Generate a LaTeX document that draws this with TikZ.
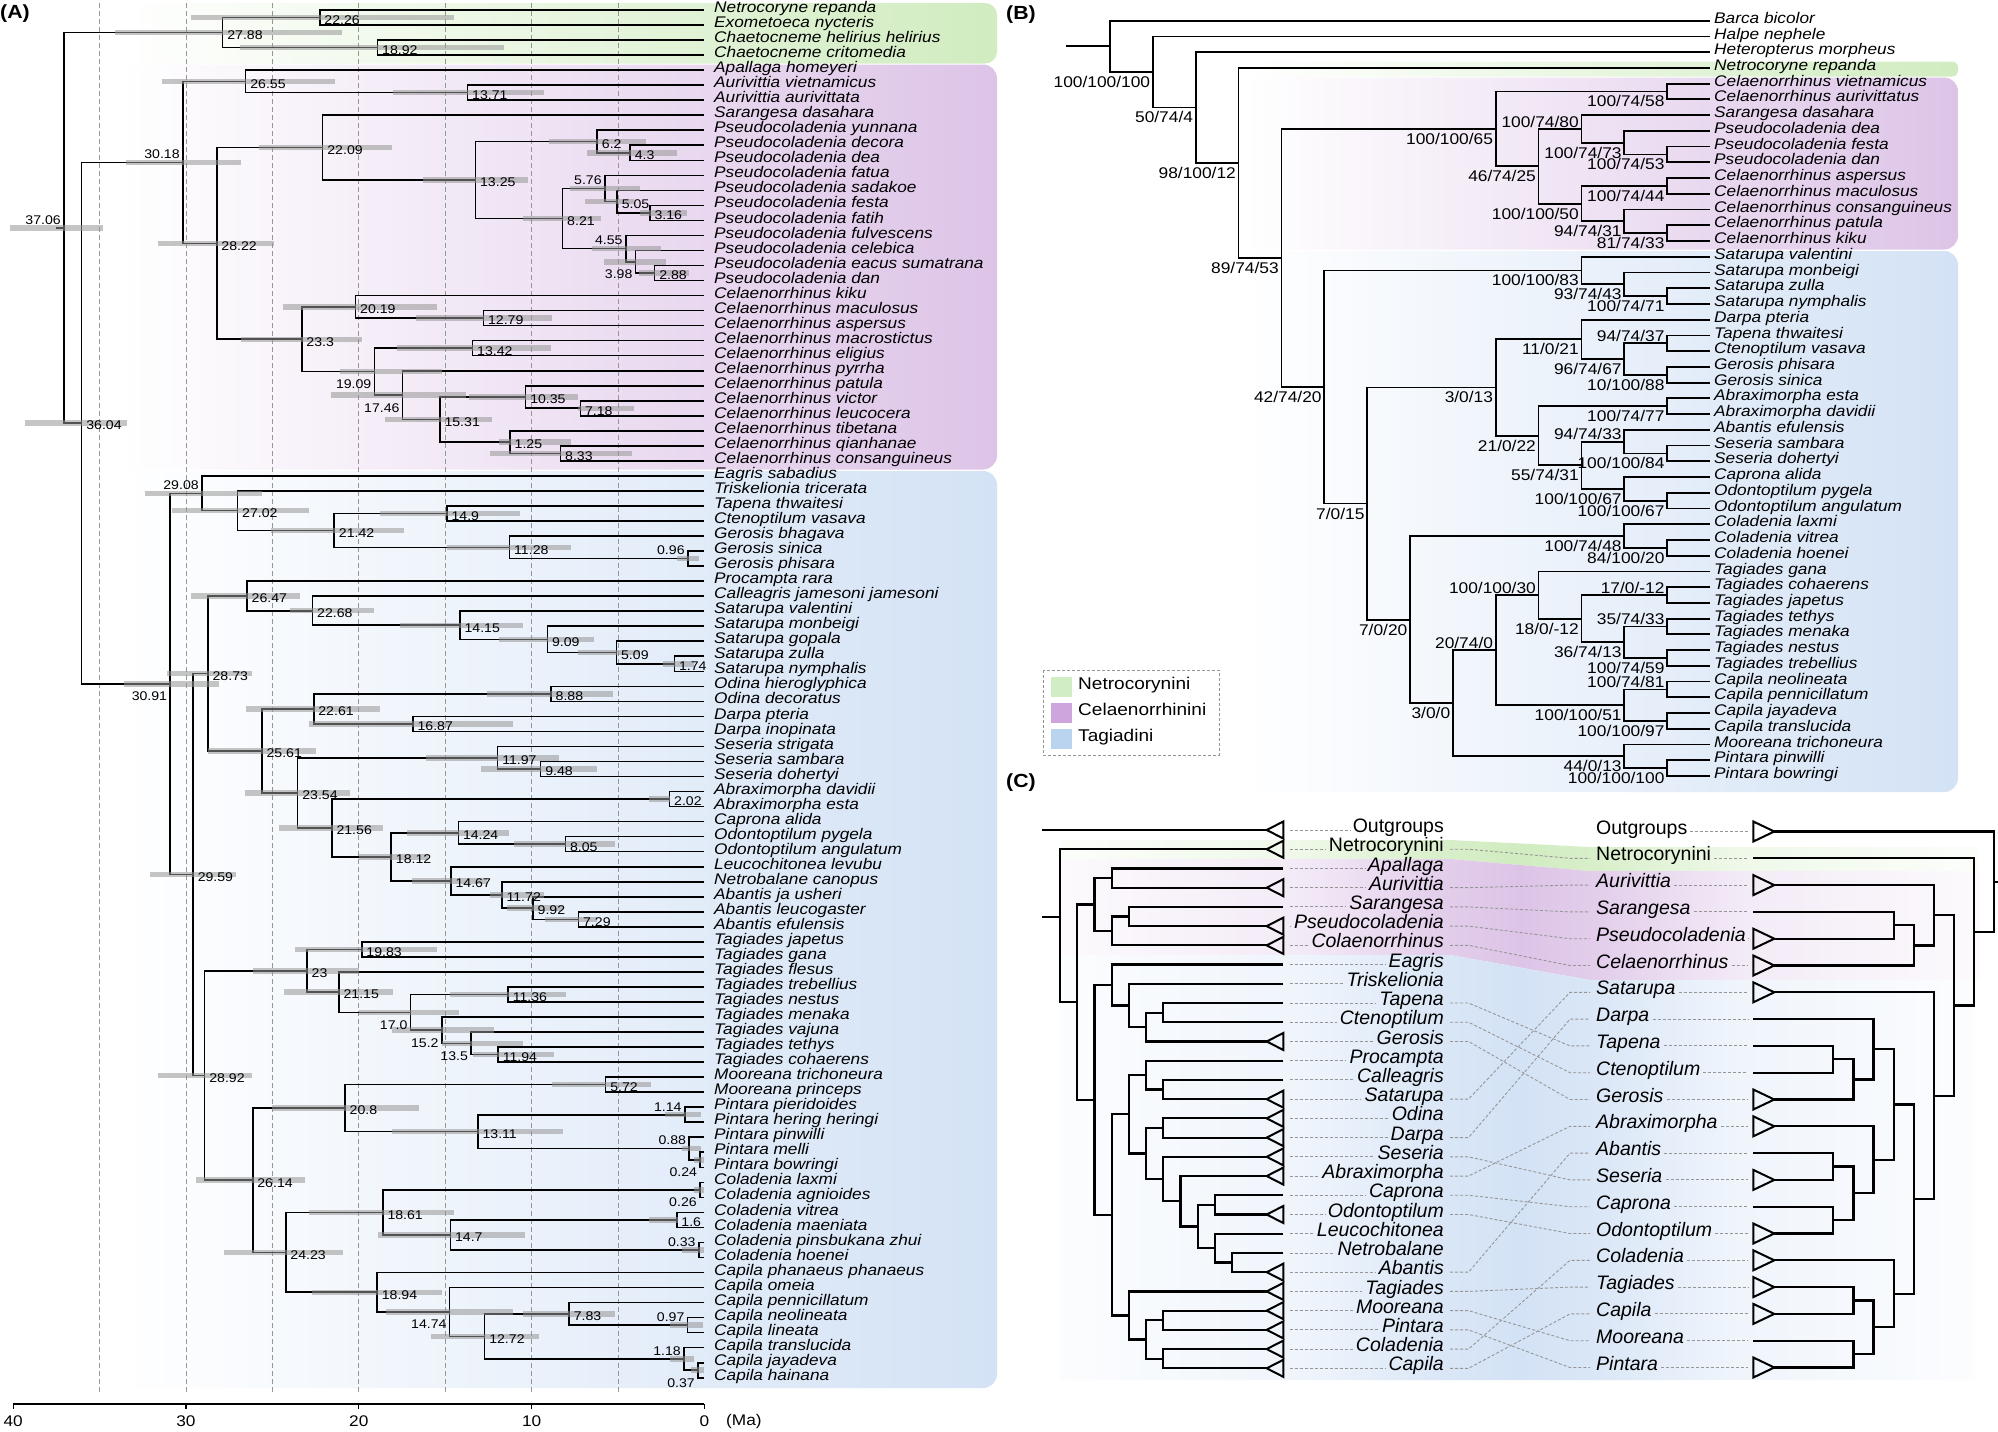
\documentclass[tikz,border=0pt]{standalone}
\usepackage{fontspec}
\setmainfont{Liberation Sans}[FakeStretch=1.12]
\newfontfamily\cfont{Liberation Sans}
\usetikzlibrary{calc}
\pgfdeclarelayer{bg}
\pgfdeclarelayer{bars}
\pgfdeclarelayer{lab}
\pgfsetlayers{bg,main,bars,lab}
\definecolor{grnA}{RGB}{209,236,192}
\definecolor{purA}{RGB}{221,196,231}
\definecolor{bluA}{RGB}{211,226,245}
\definecolor{swG}{RGB}{208,237,197}
\definecolor{swP}{RGB}{206,166,221}
\definecolor{swB}{RGB}{186,211,239}
\definecolor{barc}{RGB}{150,150,150}
\definecolor{dashc}{RGB}{150,150,150}
\colorlet{gA}{grnA!8}\colorlet{gB}{grnA!35}\colorlet{gC}{grnA!85}
\colorlet{pA}{purA!8}\colorlet{pB}{purA!35}\colorlet{pC}{purA!85}
\colorlet{bA}{bluA!8}\colorlet{bB}{bluA!35}\colorlet{bC}{bluA!85}
\pgfdeclarehorizontalshading{shG}{100bp}{color(0bp)=(gA); color(25bp)=(gA); color(38bp)=(gB); color(46bp)=(gC); color(50bp)=(grnA); color(54bp)=(gC); color(62bp)=(gB); color(75bp)=(gA); color(100bp)=(gA)}
\pgfdeclarehorizontalshading{shP}{100bp}{color(0bp)=(pA); color(25bp)=(pA); color(38bp)=(pB); color(46bp)=(pC); color(50bp)=(purA); color(54bp)=(pC); color(62bp)=(pB); color(75bp)=(pA); color(100bp)=(pA)}
\pgfdeclarehorizontalshading{shB}{100bp}{color(0bp)=(bA); color(25bp)=(bA); color(38bp)=(bB); color(46bp)=(bC); color(50bp)=(bluA); color(54bp)=(bC); color(62bp)=(bB); color(75bp)=(bA); color(100bp)=(bA)}

\newcommand\ndA[8][ageR]{%
  \path let \p1=(#5), \p2=(#6) in ({(704.4-17.28*#3)*1pt},{0.5*\y1+0.5*\y2}) coordinate (#2);
  \draw[brA] (#5) -- (#5 -| #2) -- (#6 -| #2) -- (#6);
  \begin{pgfonlayer}{bars}
    \draw[barA] let \p1=(#2) in ({(704.4-17.28*#7)*1pt},\y1) -- ({(704.4-17.28*#8)*1pt},\y1);
  \end{pgfonlayer}
  \begin{pgfonlayer}{lab}
    \node[#1] (L#2) at (#2) {#4};
  \end{pgfonlayer}}
\newcommand\ndB[6][supB]{%
  \path let \p1=(#5), \p2=(#6) in ({(1110+42.857*#3)*1pt},{0.5*\y1+0.5*\y2}) coordinate (#2);
  \draw[brB] (#5) -- (#5 -| #2) -- (#6 -| #2) -- (#6);
  \node[#1] (L#2) at (#2) {#4};}
\newcommand\ndC[4]{%
  \path let \p1=(#3), \p2=(#4) in ({#2*1pt},{0.5*\y1+0.5*\y2}) coordinate (#1);
  \draw[brC] (#3) -- (#3 -| #1) -- (#4 -| #1) -- (#4);}

\begin{document}
\begin{tikzpicture}[x=1pt,y=-1pt,
  brA/.style={line width=1.6pt,line join=miter},
  brB/.style={line width=1.8pt,line join=miter},
  brC/.style={line width=2.2pt,line join=miter},
  triC/.style={line width=2pt,line join=miter},
  barA/.style={line width=5.5pt,draw=barc,draw opacity=0.55},
  gridA/.style={draw=dashc,line width=0.7pt,dash pattern=on 5pt off 3pt},
  tipA/.style={anchor=west,inner sep=0pt,font=\fontsize{15.4}{16}\selectfont\itshape,text height=0.72em,text depth=0.2em},
  ageR/.style={anchor=west,inner sep=0pt,xshift=4.5pt,yshift=-2.5pt,font=\fontsize{12.6}{13}\selectfont},
  ageAL/.style={anchor=south east,inner sep=0pt,xshift=-3pt,yshift=3.5pt,font=\fontsize{12.6}{13}\selectfont},
  ageBL/.style={anchor=north east,inner sep=0pt,xshift=-3pt,yshift=-8pt,font=\fontsize{12.6}{13}\selectfont},
  supA/.style={anchor=south east,inner sep=0pt,xshift=-2.5pt,yshift=1.5pt,font=\fontsize{15.5}{16}\selectfont},
  supB/.style={anchor=north east,inner sep=0pt,xshift=-2.5pt,yshift=-4pt,font=\fontsize{15.5}{16}\selectfont},
  labC/.style={inner sep=0pt,font=\cfont\fontsize{19.5}{20}\selectfont\itshape,text height=0.72em,text depth=0.2em},
  dashC/.style={draw=dashc,line width=0.9pt,dash pattern=on 3pt off 2pt},
  axT/.style={inner sep=0pt,font=\fontsize{15.4}{16}\selectfont},
  legT/.style={anchor=west,inner sep=0pt,font=\fontsize{17}{18}\selectfont,text height=0.72em,text depth=0.2em},
  panT/.style={anchor=west,inner sep=0pt,font=\fontsize{19}{20}\selectfont\bfseries}]
\useasboundingbox (0,0) rectangle (1998,1432);
\begin{pgfonlayer}{bg}
  \fill[white] (0,0) rectangle (1998,1432);
  % panel A backgrounds
  \shade[left color=white,right color=grnA,rounded corners=12pt] (118,3) rectangle (997,63.5);
  \shade[left color=white,right color=purA,rounded corners=14pt] (118,64.5) rectangle (997,469.5);
  \shade[left color=white,right color=bluA,rounded corners=14pt] (118,471) rectangle (997,1388);
  % panel B backgrounds
  \shade[left color=white,right color=grnA,rounded corners=6pt] (1245,61.5) rectangle (1958,76.5);
  \shade[left color=white,right color=purA,rounded corners=14pt] (1245,77.5) rectangle (1958,249.5);
  \shade[left color=white,right color=bluA,rounded corners=14pt] (1245,251) rectangle (1958,792);
  % panel C backgrounds
  \shade[shading=shG] (1060,840) -- (1450,840) -- (1590,847) -- (1978,847) -- (1978,871) -- (1590,871) -- (1450,859) -- (1060,859) -- cycle;
  \shade[shading=shP] (1060,859) -- (1450,859) -- (1590,871) -- (1980,871) -- (1980,980) -- (1590,980) -- (1450,955) -- (1060,955) -- cycle;
  \shade[shading=shB] (1060,955) -- (1450,955) -- (1590,980) -- (1975,980) -- (1975,1380) -- (1060,1380) -- cycle;
\end{pgfonlayer}

% ================= PANEL A =================
\node[panT] (pA) at (0,14) {(A)};
\foreach \t in {5,10,...,35} \draw[gridA] ({704.4-17.28*\t},3) -- ({704.4-17.28*\t},1393);
\foreach \i/\t in {1/Netrocoryne repanda,2/Exometoeca nycteris,3/Chaetocneme helirius helirius,4/Chaetocneme critomedia,5/Apallaga homeyeri,6/Aurivittia vietnamicus,7/Aurivittia aurivittata,8/Sarangesa dasahara,9/Pseudocoladenia yunnana,10/Pseudocoladenia decora,11/Pseudocoladenia dea,12/Pseudocoladenia fatua,13/Pseudocoladenia sadakoe,14/Pseudocoladenia festa,15/Pseudocoladenia fatih,16/Pseudocoladenia fulvescens,17/Pseudocoladenia celebica,18/Pseudocoladenia eacus sumatrana,19/Pseudocoladenia dan,20/Celaenorrhinus kiku,21/Celaenorrhinus maculosus,22/Celaenorrhinus aspersus,23/Celaenorrhinus macrostictus,24/Celaenorrhinus eligius,25/Celaenorrhinus pyrrha,26/Celaenorrhinus patula,27/Celaenorrhinus victor,28/Celaenorrhinus leucocera,29/Celaenorrhinus tibetana,30/Celaenorrhinus qianhanae,31/Celaenorrhinus consanguineus,32/Eagris sabadius,33/Triskelionia tricerata,34/Tapena thwaitesi,35/Ctenoptilum vasava,36/Gerosis bhagava,37/Gerosis sinica,38/Gerosis phisara,39/Procampta rara,40/Calleagris jamesoni jamesoni,41/Satarupa valentini,42/Satarupa monbeigi,43/Satarupa gopala,44/Satarupa zulla,45/Satarupa nymphalis,46/Odina hieroglyphica,47/Odina decoratus,48/Darpa pteria,49/Darpa inopinata,50/Seseria strigata,51/Seseria sambara,52/Seseria dohertyi,53/Abraximorpha davidii,54/Abraximorpha esta,55/Caprona alida,56/Odontoptilum pygela,57/Odontoptilum angulatum,58/Leucochitonea levubu,59/Netrobalane canopus,60/Abantis ja usheri,61/Abantis leucogaster,62/Abantis efulensis,63/Tagiades japetus,64/Tagiades gana,65/Tagiades flesus,66/Tagiades trebellius,67/Tagiades nestus,68/Tagiades menaka,69/Tagiades vajuna,70/Tagiades tethys,71/Tagiades cohaerens,72/Mooreana trichoneura,73/Mooreana princeps,74/Pintara pieridoides,75/Pintara hering heringi,76/Pintara pinwilli,77/Pintara melli,78/Pintara bowringi,79/Coladenia laxmi,80/Coladenia agnioides,81/Coladenia vitrea,82/Coladenia maeniata,83/Coladenia pinsbukana zhui,84/Coladenia hoenei,85/Capila phanaeus phanaeus,86/Capila omeia,87/Capila pennicillatum,88/Capila neolineata,89/Capila lineata,90/Capila translucida,91/Capila jayadeva,92/Capila hainana}{
  \coordinate (a\i) at (704.4,{10+15.03*(\i-1)});
  \node[tipA] (ta\i) at (714,{10+15.03*(\i-1)}) {\t};
}
% Netrocorynini
\ndA{n1}{22.26}{22.26}{a1}{a2}{29.7}{14.5}
\ndA{n2}{18.92}{18.92}{a3}{a4}{26.9}{11.6}
\ndA{n3}{27.88}{27.88}{n1}{n2}{34.1}{21.0}
% Celaenorrhinini
\ndA{n4}{13.71}{13.71}{a6}{a7}{18.0}{9.3}
\ndA{n5}{26.55}{26.55}{a5}{n4}{31.4}{21.4}
\ndA{n6}{4.3}{4.3}{a10}{a11}{6.8}{1.6}
\ndA{n7}{6.2}{6.2}{a9}{n6}{9.0}{3.4}
\ndA{n8}{3.16}{3.16}{a14}{a15}{3.7}{1.0}
\ndA{n9}{5.05}{5.05}{a13}{n8}{6.9}{4.1}
\ndA[ageAL]{n10}{5.76}{5.76}{a12}{n9}{7.8}{3.7}
\ndA{n11}{2.88}{2.88}{a18}{a19}{3.8}{0.9}
\ndA[ageBL]{n12}{3.98}{3.98}{a17}{n11}{5.8}{2.2}
\ndA[ageAL]{n13}{4.55}{4.55}{a16}{n12}{6.5}{2.5}
\ndA{n14}{8.21}{8.21}{n10}{n13}{10.5}{6.0}
\ndA{n15}{13.25}{13.25}{n7}{n14}{16.3}{10.2}
\ndA{n16}{22.09}{22.09}{a8}{n15}{25.8}{18.1}
\ndA{n17}{12.79}{12.79}{a21}{a22}{16.7}{8.8}
\ndA{n18}{20.19}{20.19}{a20}{n17}{24.4}{15.5}
\ndA{n19}{13.42}{13.42}{a23}{a24}{17.8}{8.9}
\ndA{n20}{7.18}{7.18}{a27}{a28}{7.3}{4.1}
\ndA{n21}{10.35}{10.35}{a26}{n20}{13.6}{7.3}
\ndA{n22}{8.33}{8.33}{a30}{a31}{12.4}{4.2}
\ndA{n23}{11.25}{1.25}{a29}{n22}{11.9}{7.7}
\ndA{n24}{15.31}{15.31}{n21}{n23}{18.5}{12.3}
\ndA[ageBL]{n25}{17.46}{17.46}{a25}{n24}{21.6}{13.8}
\ndA[ageBL]{n26}{19.09}{19.09}{n19}{n25}{21.1}{15.2}
\ndA{n27}{23.3}{23.3}{n18}{n26}{26.8}{19.8}
\ndA{n28}{28.22}{28.22}{n16}{n27}{31.6}{24.9}
\ndA[ageAL]{n29}{30.18}{30.18}{n5}{n28}{33.5}{26.8}
% Tagiadini
\ndA{n30}{14.9}{14.9}{a34}{a35}{18.8}{10.7}
\ndA[ageAL]{n31}{0.96}{0.96}{a37}{a38}{1.6}{0.3}
\ndA{n32}{11.28}{11.28}{a36}{n31}{14.9}{7.7}
\ndA{n33}{21.42}{21.42}{n30}{n32}{25.1}{17.4}
\ndA{n34}{27.02}{27.02}{a33}{n33}{30.8}{22.9}
\ndA[ageAL]{n35}{29.08}{29.08}{a32}{n34}{32.4}{25.6}
\ndA{n36}{1.74}{1.74}{a44}{a45}{2.4}{0.6}
\ndA{n37}{5.09}{5.09}{a43}{n36}{7.3}{3.7}
\ndA{n38}{9.09}{9.09}{a42}{n37}{11.9}{6.4}
\ndA{n39}{14.15}{14.15}{a41}{n38}{17.6}{10.5}
\ndA{n40}{22.68}{22.68}{a40}{n39}{24.0}{19.1}
\ndA{n41}{26.47}{26.47}{a39}{n40}{29.7}{23.4}
\ndA{n42}{8.88}{8.88}{a46}{a47}{12.6}{5.3}
\ndA{n43}{16.87}{16.87}{a48}{a49}{22.9}{11.1}
\ndA{n44}{22.61}{22.61}{n42}{n43}{26.5}{18.8}
\ndA{n45}{9.48}{9.48}{a51}{a52}{12.9}{6.2}
\ndA{n46}{11.97}{11.97}{a50}{n45}{16.1}{8.4}
\ndA{n47}{2.02}{2.02}{a53}{a54}{3.2}{2.0}
\ndA{n48}{8.05}{8.05}{a56}{a57}{11.0}{5.2}
\ndA{n49}{14.24}{14.24}{a55}{n48}{17.2}{11.3}
\ndA{n50}{7.29}{7.29}{a61}{a62}{9.2}{6.2}
\ndA{n51}{9.92}{9.92}{a60}{n50}{11.4}{8.2}
\ndA{n52}{11.72}{11.72}{a59}{n51}{12.4}{9.3}
\ndA{n53}{14.67}{14.67}{a58}{n52}{16.9}{12.6}
\ndA{n54}{18.12}{18.12}{n49}{n53}{20.0}{16.0}
\ndA{n55}{21.56}{21.56}{n47}{n54}{24.6}{18.6}
\ndA{n56}{23.54}{23.54}{n46}{n55}{26.6}{20.5}
\ndA{n57}{25.61}{25.61}{n44}{n56}{28.7}{22.5}
\ndA{n58}{28.73}{28.73}{n41}{n57}{31.1}{26.2}
\ndA{n59}{19.83}{19.83}{a63}{a64}{23.7}{15.5}
\ndA{n60}{11.36}{11.36}{a66}{a67}{14.7}{8.0}
\ndA{n61}{11.94}{11.94}{a70}{a71}{13.4}{8.7}
\ndA[ageBL]{n62}{13.5}{13.5}{a69}{n61}{15.2}{10.5}
\ndA[ageBL]{n63}{15.2}{15.2}{a68}{n62}{18.1}{12.2}
\ndA[ageBL]{n64}{17.0}{17.0}{n60}{n63}{20.0}{14.2}
\ndA{n65}{21.15}{21.15}{a65}{n64}{24.3}{18.0}
\ndA{n66}{23}{23}{n59}{n65}{26.1}{20.0}
\ndA{n67}{5.72}{5.72}{a72}{a73}{8.8}{3.1}
\ndA[ageAL]{n68}{1.14}{1.14}{a74}{a75}{2.3}{0.2}
\ndA[ageBL]{n69}{0.24}{0.24}{a77}{a78}{0.6}{0.05}
\ndA[ageAL]{n70}{0.88}{0.88}{a76}{n69}{1.3}{0.2}
\ndA{n71}{13.11}{13.11}{n68}{n70}{18.1}{8.2}
\ndA{n72}{20.8}{20.8}{n67}{n71}{25.0}{16.5}
\ndA[ageBL]{n73}{0.26}{0.26}{a79}{a80}{0.6}{0.05}
\ndA{n74}{1.6}{1.6}{a81}{a82}{3.2}{1.5}
\ndA[ageAL]{n75}{0.33}{0.33}{a83}{a84}{1.3}{0.05}
\ndA{n76}{14.7}{14.7}{n74}{n75}{18.9}{10.4}
\ndA{n77}{18.61}{18.61}{n73}{n76}{22.9}{14.5}
\ndA[ageAL]{n78}{0.97}{0.97}{a88}{a89}{2.0}{0.1}
\ndA{n79}{7.83}{7.83}{a87}{n78}{10.5}{5.2}
\ndA[ageBL]{n80}{0.37}{0.37}{a91}{a92}{0.8}{0.05}
\ndA[ageAL]{n81}{1.18}{1.18}{a90}{n80}{2.0}{0.6}
\ndA{n82}{12.72}{12.72}{n79}{n81}{15.8}{9.6}
\ndA[ageBL]{n83}{14.74}{14.74}{a86}{n82}{18.4}{11.1}
\ndA{n84}{18.94}{18.94}{a85}{n83}{22.7}{15.2}
\ndA{n85}{24.23}{24.23}{n77}{n84}{27.8}{20.9}
\ndA{n86}{26.14}{26.14}{n72}{n85}{29.4}{23.1}
\ndA{n87}{28.92}{28.92}{n66}{n86}{31.6}{26.2}
\ndA{n88}{29.59}{29.59}{n58}{n87}{32.1}{27.1}
\ndA[ageBL]{n89}{30.91}{30.91}{n35}{n88}{33.6}{28.1}
\ndA{n90}{36.04}{36.04}{n29}{n89}{39.3}{33.4}
\ndA[ageAL]{n91}{37.06}{37.06}{n3}{n90}{40.2}{34.8}
\draw[brA] (n91) -- ++(-8,0);
% axis
\draw[line width=1.5pt] (13,1404) -- (704.4,1404);
\foreach \t in {0,10,20,30,40}{
  \draw[line width=1.2pt] ({704.4-17.28*\t},1404) -- ({704.4-17.28*\t},1409);
  \node[axT] (ax\t) at ({704.4-17.28*\t},1421) {\t};
}
\node[axT,anchor=west] (ma) at (726,1421) {(Ma)};

% ================= PANEL B =================
\node[panT] (pB) at (1006,15) {(B)};
\foreach \i/\t in {1/Barca bicolor,2/Halpe nephele,3/Heteropterus morpheus,4/Netrocoryne repanda,5/Celaenorrhinus vietnamicus,6/Celaenorrhinus aurivittatus,7/Sarangesa dasahara,8/Pseudocoladenia dea,9/Pseudocoladenia festa,10/Pseudocoladenia dan,11/Celaenorrhinus aspersus,12/Celaenorrhinus maculosus,13/Celaenorrhinus consanguineus,14/Celaenorrhinus patula,15/Celaenorrhinus kiku,16/Satarupa valentini,17/Satarupa monbeigi,18/Satarupa zulla,19/Satarupa nymphalis,20/Darpa pteria,21/Tapena thwaitesi,22/Ctenoptilum vasava,23/Gerosis phisara,24/Gerosis sinica,25/Abraximorpha esta,26/Abraximorpha davidii,27/Abantis efulensis,28/Seseria sambara,29/Seseria dohertyi,30/Caprona alida,31/Odontoptilum pygela,32/Odontoptilum angulatum,33/Coladenia laxmi,34/Coladenia vitrea,35/Coladenia hoenei,36/Tagiades gana,37/Tagiades cohaerens,38/Tagiades japetus,39/Tagiades tethys,40/Tagiades menaka,41/Tagiades nestus,42/Tagiades trebellius,43/Capila neolineata,44/Capila pennicillatum,45/Capila jayadeva,46/Capila translucida,47/Mooreana trichoneura,48/Pintara pinwilli,49/Pintara bowringi}{
  \coordinate (b\i) at (1710,{20.7+15.735*(\i-1)});
  \node[tipA] (tb\i) at (1714,{20.7+15.735*(\i-1)}) {\t};
}
\ndB{m1}{13}{100/74/58}{b5}{b6}
\ndB{m2}{13}{100/74/53}{b9}{b10}
\ndB{m3}{12}{100/74/73}{b8}{m2}
\ndB[supA]{m4}{11}{100/74/80}{b7}{m3}
\ndB{m5}{13}{100/74/44}{b11}{b12}
\ndB{m6}{13}{81/74/33}{b14}{b15}
\ndB{m7}{12}{94/74/31}{b13}{m6}
\ndB{m8}{11}{100/100/50}{m5}{m7}
\ndB{m9}{10}{46/74/25}{m4}{m8}
\ndB{m10}{9}{100/100/65}{m1}{m9}
\ndB{m11}{13}{100/74/71}{b18}{b19}
\ndB{m12}{12}{93/74/43}{b17}{m11}
\ndB{m13}{11}{100/100/83}{b16}{m12}
\ndB[supA]{m14}{13}{94/74/37}{b21}{b22}
\ndB{m15}{13}{10/100/88}{b23}{b24}
\ndB{m16}{12}{96/74/67}{m14}{m15}
\ndB{m17}{11}{11/0/21}{b20}{m16}
\ndB{m18}{13}{100/74/77}{b25}{b26}
\ndB{m19}{13}{100/100/84}{b28}{b29}
\ndB[supA]{m20}{12}{94/74/33}{b27}{m19}
\ndB{m21}{13}{100/100/67}{b31}{b32}
\ndB{m22}{12}{100/100/67}{b30}{m21}
\ndB{m23}{11}{55/74/31}{m20}{m22}
\ndB{m24}{10}{21/0/22}{m18}{m23}
\ndB{m25}{9}{3/0/13}{m17}{m24}
\ndB{m26}{13}{84/100/20}{b34}{b35}
\ndB{m27}{12}{100/74/48}{b33}{m26}
\ndB[supA]{m28}{13}{17/0/-12}{b37}{b38}
\ndB[supA]{m29}{13}{35/74/33}{b39}{b40}
\ndB{m30}{13}{100/74/59}{b41}{b42}
\ndB{m31}{12}{36/74/13}{m29}{m30}
\ndB{m32}{11}{18/0/-12}{m28}{m31}
\ndB[supA]{m33}{10}{100/100/30}{b36}{m32}
\ndB[supA]{m34}{13}{100/74/81}{b43}{b44}
\ndB{m35}{13}{100/100/97}{b45}{b46}
\ndB{m36}{12}{100/100/51}{m34}{m35}
\ndB[supA]{m37}{9}{20/74/0}{m33}{m36}
\ndB{m38}{13}{100/100/100}{b48}{b49}
\ndB{m39}{12}{44/0/13}{b47}{m38}
\ndB{m40}{8}{3/0/0}{m37}{m39}
\ndB{m41}{7}{7/0/20}{m27}{m40}
\ndB{m42}{6}{7/0/15}{m25}{m41}
\ndB{m43}{5}{42/74/20}{m13}{m42}
\ndB{m44}{4}{89/74/53}{m10}{m43}
\ndB{m45}{3}{98/100/12}{b4}{m44}
\ndB{m46}{2}{50/74/4}{b3}{m45}
\ndB{m47}{1}{100/100/100}{b2}{m46}
\ndB{m48}{0}{}{b1}{m47}
\draw[brB] (m48) -- ++(-44,0);
% legend
\draw[dashC] (1043,670) rectangle (1219,755);
\fill[swG] (1051,677) rectangle (1072,697);
\fill[swP] (1051,703) rectangle (1072,723);
\fill[swB] (1051,729) rectangle (1072,749);
\node[legT] (lg1) at (1078,687) {Netrocorynini};
\node[legT] (lg2) at (1078,713) {Celaenorrhinini};
\node[legT] (lg3) at (1078,739) {Tagiadini};

% ================= PANEL C =================
\node[panT] (pC) at (1006,783) {(C)};
\foreach \i/\t/\tr in {1/{\upshape Outgroups}/1,2/{\upshape Netrocorynini}/1,3/Apallaga/0,4/Aurivittia/1,5/Sarangesa/0,6/Pseudocoladenia/1,7/Colaenorrhinus/1,8/Eagris/0,9/Triskelionia/0,10/Tapena/0,11/Ctenoptilum/0,12/Gerosis/1,13/Procampta/0,14/Calleagris/0,15/Satarupa/1,16/Odina/1,17/Darpa/1,18/Seseria/1,19/Abraximorpha/1,20/Caprona/0,21/Odontoptilum/1,22/Leucochitonea/0,23/Netrobalane/0,24/Abantis/1,25/Tagiades/1,26/Mooreana/1,27/Pintara/1,28/Coladenia/1,29/Capila/1}{
  \pgfmathsetmacro\yy{830+19.225*(\i-1)}
  \ifnum\tr=1
    \coordinate (cl\i) at (1266.7,\yy);
    \draw[triC] (1266.7,\yy) -- (1283.3,{\yy-8.5}) -- (1283.3,{\yy+8.5}) -- cycle;
  \else
    \coordinate (cl\i) at (1283.3,\yy);
  \fi
  \node[labC,anchor=east] (ll\i) at (1444,\yy) {\t};
  \draw[dashC] (1289.5,\yy) -- ([xshift=-3pt]ll\i.west);
}
\foreach \j/\t/\tr in {1/{\upshape Outgroups}/1,2/{\upshape Netrocorynini}/0,3/Aurivittia/1,4/Sarangesa/0,5/Pseudocoladenia/1,6/Celaenorrhinus/1,7/Satarupa/1,8/Darpa/0,9/Tapena/0,10/Ctenoptilum/0,11/Gerosis/1,12/Abraximorpha/1,13/Abantis/0,14/Seseria/1,15/Caprona/0,16/Odontoptilum/1,17/Coladenia/1,18/Tagiades/1,19/Capila/1,20/Mooreana/0,21/Pintara/1}{
  \pgfmathsetmacro\yy{831.5+26.8*(\j-1)}
  \ifnum\tr=1
    \coordinate (cr\j) at (1774.3,\yy);
    \draw[triC] (1774.3,\yy) -- (1753.3,{\yy-10}) -- (1753.3,{\yy+10}) -- cycle;
  \else
    \coordinate (cr\j) at (1753.3,\yy);
  \fi
  \node[labC,anchor=west] (rl\j) at (1596,\yy) {\t};
  \draw[dashC] ([xshift=3pt]rl\j.east) -- (1748,\yy);
}
\foreach \a/\b in {2/2,4/3,5/4,6/5,7/6,10/9,11/10,12/11,15/7,17/8,18/14,19/12,20/15,21/16,24/13,25/18,26/20,27/21,28/17,29/19}
  \draw[dashC] ([xshift=6pt]ll\a.east) -- ++(18.5,0) -- ([xshift=-26pt]rl\b.west) -- ([xshift=-6pt]rl\b.west);
% left tree
\ndC{c1}{1111.6}{cl3}{cl4}
\ndC{c3}{1128.8}{cl5}{cl6}
\ndC{c2}{1111.6}{c3}{cl7}
\ndC{cC}{1094.4}{c1}{c2}
\ndC{t1c}{1163.2}{cl10}{cl11}
\ndC{t1b}{1146}{t1c}{cl12}
\ndC{t1a}{1128.8}{cl9}{t1b}
\ndC{t1}{1111.6}{cl8}{t1a}
\ndC{t3a1}{1163.2}{cl14}{cl15}
\ndC{t3a}{1146}{cl13}{t3a1}
\ndC{o1}{1163.2}{cl16}{cl17}
\ndC{cap}{1214.8}{cl20}{cl21}
\ndC{nab}{1232}{cl23}{cl24}
\ndC{leu}{1214.8}{cl22}{nab}
\ndC{x8}{1197.6}{cap}{leu}
\ndC{x7}{1180.4}{cl19}{x8}
\ndC{x6}{1163.2}{cl18}{x7}
\ndC{t3b}{1146}{o1}{x6}
\ndC{t3}{1128.8}{t3a}{t3b}
\ndC{mp}{1163.2}{cl26}{cl27}
\ndC{cc}{1163.2}{cl28}{cl29}
\ndC{x5}{1146}{mp}{cc}
\ndC{t4}{1128.8}{cl25}{x5}
\ndC{t2}{1111.6}{t3}{t4}
\ndC{tT}{1094.4}{t1}{t2}
\ndC{cB}{1077.2}{cC}{tT}
\ndC{cA}{1060}{cl2}{cB}
\draw[brC] (1042,917) -- (1060,917);
\draw[brC] (1042,830) -- (cl1);
% right tree
\ndC{rps}{1893.6}{cr4}{cr5}
\ndC{rpc}{1913.7}{rps}{cr6}
\ndC{rcel}{1933.8}{cr3}{rpc}
\ndC{rtc}{1833.3}{cr9}{cr10}
\ndC{rtcg}{1853.4}{rtc}{cr11}
\ndC{rdtg}{1873.5}{cr8}{rtcg}
\ndC{ras}{1833.3}{cr13}{cr14}
\ndC{rco}{1833.3}{cr15}{cr16}
\ndC{rasco}{1853.4}{ras}{rco}
\ndC{rab}{1873.5}{cr12}{rasco}
\ndC{rmid}{1893.6}{rdtg}{rab}
\ndC{rtc2}{1853.4}{cr18}{cr19}
\ndC{rmp}{1853.4}{cr20}{cr21}
\ndC{rtcmp}{1873.5}{rtc2}{rmp}
\ndC{rcol}{1893.6}{cr17}{rtcmp}
\ndC{rlow}{1913.7}{rmid}{rcol}
\ndC{rtag}{1933.8}{cr7}{rlow}
\ndC{rin}{1953.9}{rcel}{rtag}
\ndC{rnet}{1974}{cr2}{rin}
\ndC{rroot}{1994.1}{cr1}{rnet}
\draw[brC] (rroot) -- ++(6,0);
\end{tikzpicture}
\end{document}
